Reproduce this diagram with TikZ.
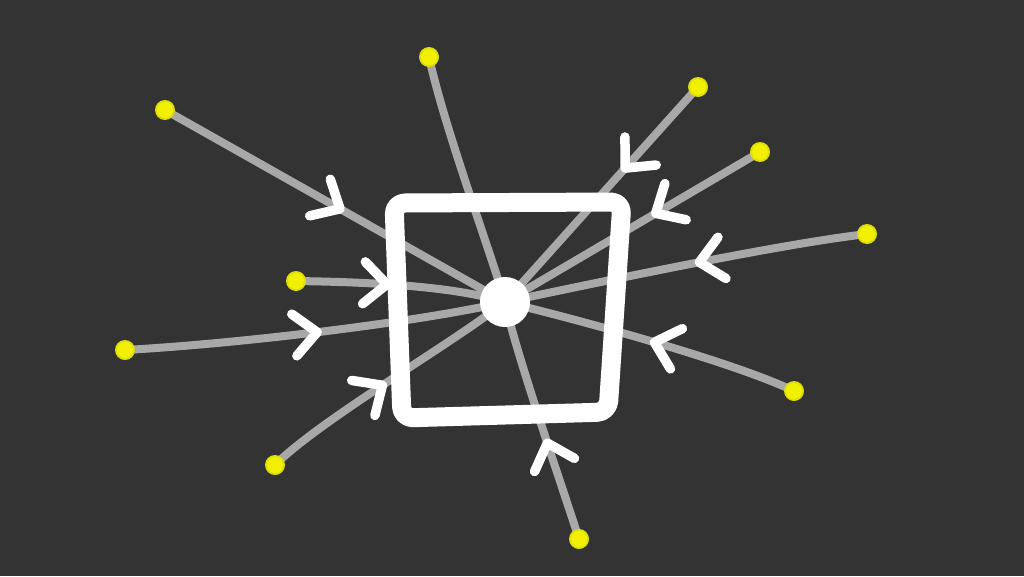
\documentclass[tikz,border=0pt]{standalone}
\usetikzlibrary{decorations.markings}
\definecolor{bgc}{RGB}{51,51,51}
\definecolor{wiregray}{RGB}{168,168,168}
\definecolor{dotout}{RGB}{222,222,10}
\definecolor{dotin}{RGB}{240,240,0}
\pgfdeclarelayer{bgl}
\pgfdeclarelayer{wires}
\pgfsetlayers{bgl,wires,main}
\begin{document}
\begin{tikzpicture}[x=1pt,y=-1pt,
  ydot/.style={circle,fill=dotout,inner sep=0pt,minimum size=20pt,
    path picture={\fill[dotin] (path picture bounding box.center) circle (8pt);}},
  hub/.style={circle,fill=white,inner sep=0pt,minimum size=50pt},
  wire/.style={draw=wiregray,line width=8pt,line cap=round},
  chev/.style={draw=white,line width=9.5pt,line cap=round,line join=round},
  arr/.style={postaction={decorate,decoration={markings,
    mark=at position #1 with {\draw[chev] (-23,-21) -- (0,0) -- (-23,21);}}}},
  boxline/.style={draw=white,line width=19pt,rounded corners=11pt,line join=round}]
\useasboundingbox (0,0) rectangle (1024,576);
\begin{pgfonlayer}{bgl}
  \fill[bgc] (0,0) rectangle (1024,576);
\end{pgfonlayer}
% frame
\draw[boxline] (394,203) -- (622,202) -- (608,412) -- (402,418) -- cycle;
% hub and sources
\node[hub] (c) at (505,302) {};
\node[ydot] (d1) at (165,110) {};
\node[ydot] (d2) at (429,57) {};
\node[ydot] (d3) at (698,87) {};
\node[ydot] (d4) at (760,152) {};
\node[ydot] (d5) at (867,234) {};
\node[ydot] (d6) at (296,281) {};
\node[ydot] (d7) at (125,350) {};
\node[ydot] (d8) at (275,465) {};
\node[ydot] (d9) at (794,391) {};
\node[ydot] (d10) at (579,539) {};
\begin{pgfonlayer}{wires}
  \draw[wire,arr=201pt] (d1.center) -- (c.center);
  \draw[wire] (d2.center) .. controls (445,130) and (490,250) .. (c.center);
  \draw[wire,arr=109pt] (d3.center) -- (c.center);
  \draw[wire,arr=121pt] (d4.center) -- (c.center);
  \draw[wire,arr=170pt] (d5.center) .. controls (780,244) and (600,282) .. (c.center);
  \draw[wire,arr=91pt] (d6.center) .. controls (360,282) and (450,285) .. (c.center);
  \draw[wire,arr=193pt] (d7.center) .. controls (250,343) and (430,320) .. (c.center);
  \draw[wire,arr=134pt] (d8.center) .. controls (320,420) and (450,345) .. (c.center);
  \draw[wire,arr=148pt] (d9.center) .. controls (740,365) and (600,325) .. (c.center);
  \draw[wire,arr=101pt] (d10.center) .. controls (560,480) and (515,350) .. (c.center);
\end{pgfonlayer}
\end{tikzpicture}
\end{document}
